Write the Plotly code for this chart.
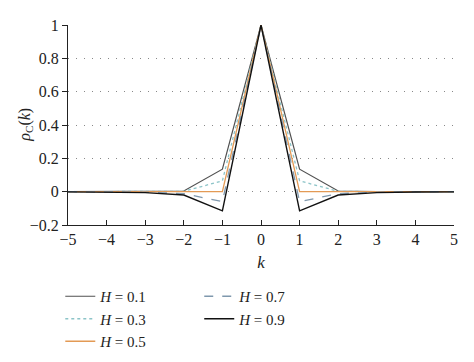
import plotly.graph_objects as go

k = [-5, -4, -3, -2, -1, 0, 1, 2, 3, 4, 5]
rho_h01 = [0, 0, 0, 0.004, 0.135, 1, 0.135, 0.004, 0, 0, 0]
rho_h03 = [0, 0, 0, 0.002, 0.065, 1, 0.065, 0.002, 0, 0, 0]
rho_h05 = [0, 0, 0, 0, 0, 1, 0, 0, 0, 0, 0]
rho_h07 = [0, -0.001, -0.003, -0.012, -0.06, 1, -0.06, -0.012, -0.003, -0.001, 0]
rho_h09 = [-0.001, -0.002, -0.006, -0.02, -0.115, 1, -0.115, -0.02, -0.006, -0.002, -0.001]

labels = ["0.1", "0.3", "0.5", "0.7", "0.9"]
series = [rho_h01, rho_h03, rho_h05, rho_h07, rho_h09]
colors = ["#505050", "#8cc4c8", "#e39a55", "#7f98ad", "#111111"]
dashes = ["solid", "dot", "solid", "dash", "solid"]
widths = [1.2, 1.3, 1.3, 1.3, 1.4]
legends = ["legend", "legend", "legend", "legend2", "legend2"]

FONT = "Liberation Serif, Times New Roman, serif"

fig = go.Figure()
for lab, y, c, d, w, lg in zip(labels, series, colors, dashes, widths, legends):
    fig.add_trace(go.Scatter(
        x=k, y=y, mode="lines", name=f"<i>H</i> = {lab}",
        line=dict(color=c, dash=d, width=w), legend=lg,
    ))

fig.update_layout(
    width=466, height=354,
    margin=dict(l=60, r=20, t=17, b=137, autoexpand=False),
    plot_bgcolor="white", paper_bgcolor="white",
    font=dict(family=FONT, size=16, color="#222"),
    legend=dict(x=-0.02, y=-0.275, xanchor="left", yanchor="top",
                font=dict(family=FONT, size=15, color="#222"),
                tracegroupgap=0, bgcolor="rgba(0,0,0,0)"),
    legend2=dict(x=0.34, y=-0.275, xanchor="left", yanchor="top",
                 font=dict(family=FONT, size=15, color="#222"),
                 tracegroupgap=0, bgcolor="rgba(0,0,0,0)"),
    xaxis=dict(
        range=[-5, 5], tickmode="linear", tick0=-5, dtick=1,
        showline=True, linecolor="#222", linewidth=1.2,
        ticks="inside", ticklen=5, tickcolor="#222",
        tickfont=dict(family=FONT, size=16),
        showgrid=False, zeroline=False, automargin=False,
        title=dict(text="<i>k</i>", standoff=8, font=dict(family=FONT, size=17)),
    ),
    yaxis=dict(
        range=[-0.2, 1], tickmode="array",
        tickvals=[-0.2, 0, 0.2, 0.4, 0.6, 0.8, 1],
        ticktext=["−0.2", "0", "0.2", "0.4", "0.6", "0.8", "1"],
        showline=True, linecolor="#222", linewidth=1.2,
        ticks="outside", ticklen=5, tickcolor="#222",
        tickfont=dict(family=FONT, size=16),
        showgrid=True, gridcolor="#888", gridwidth=1, griddash="1px,7px",
        zeroline=False, automargin=False,
    ),
    annotations=[dict(
        text="<i>ρ</i><sub>C</sub>(<i>k</i>)", textangle=-90,
        xref="paper", yref="paper", x=-0.112, y=0.5,
        xanchor="center", yanchor="middle", showarrow=False,
        font=dict(family=FONT, size=16, color="#222"),
    )],
)

fig.write_html("out.html")
